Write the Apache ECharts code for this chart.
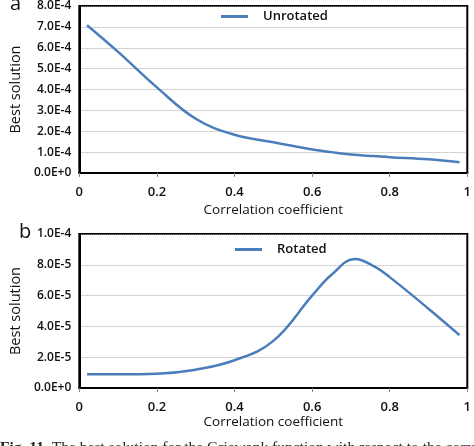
<!DOCTYPE html>
<html>
<head>
<meta charset="utf-8">
<script src="https://cdn.jsdelivr.net/npm/echarts@6/dist/echarts.min.js"></script>
<style>
  html, body { margin: 0; padding: 0; background: #fff; overflow: hidden; }
  #chart { width: 474px; height: 446px; }
</style>
</head>
<body>
<div id="chart"></div>
<script>
// correlation coefficient samples
let coeffs = [0.02, 0.1, 0.2, 0.3, 0.4, 0.5, 0.6, 0.65, 0.71, 0.76, 0.8, 0.9, 0.98];
// panel a, unrotated
let unrotated = [7.08e-4, 5.8e-4, 4.1e-4, 2.6e-4, 1.83e-4, 1.47e-4, 1.13e-4, 1.0e-4, 0.87e-4, 0.81e-4, 0.76e-4, 0.66e-4, 0.52e-4];
// panel b, rotated
let rotated = [0.89e-5, 0.89e-5, 0.93e-5, 1.19e-5, 1.8e-5, 3.06e-5, 6.0e-5, 7.35e-5, 8.37e-5, 7.9e-5, 7.2e-5, 5.15e-5, 3.43e-5];
let xTicks = [0, 0.2, 0.4, 0.6, 0.8, 1];

let font = 'Open Sans';
let blue = '#4a7ebb';

function sci(v) {
  if (Math.abs(v) < 1e-12) return '0.0E+0';
  let e = Math.floor(Math.log10(v) + 1e-9);
  let m = v / Math.pow(10, e);
  return m.toFixed(1) + 'E' + (e < 0 ? '-' : '+') + Math.abs(e);
}

function pairs(ys) {
  return coeffs.map(function (x, i) { return [x, ys[i]]; });
}

let grids = [
  {left: 76, top: 4, width: 395, height: 169},
  {left: 76, top: 234, width: 395, height: 154}
];

function xAx(idx, gap) {
  return {
    gridIndex: idx, type: 'value', min: 0, max: 1, interval: 0.2,
    name: 'Correlation coefficient', nameLocation: 'middle', nameGap: gap,
    nameTextStyle: {fontFamily: font, fontSize: 13.5, color: '#111'},
    axisLine: {lineStyle: {color: '#000', width: 2}},
    axisTick: {show: true, length: 4, lineStyle: {color: '#888'}},
    axisLabel: {
      fontFamily: font, fontSize: 13, fontWeight: 600, color: '#111', margin: 13,
      formatter: function (v) { return xTicks.indexOf(Math.round(v * 10) / 10) >= 0 ? String(Math.round(v * 10) / 10) : ''; }
    },
    splitLine: {show: false}
  };
}

function yAx(idx, max, interval) {
  return {
    gridIndex: idx, type: 'value', min: 0, max: max, interval: interval,
    name: 'Best solution', nameLocation: 'middle', nameGap: 51, nameRotate: 90,
    nameTextStyle: {fontFamily: font, fontSize: 14.5, color: '#111'},
    axisLine: {show: true, lineStyle: {color: '#000', width: 2}},
    axisTick: {show: false},
    axisLabel: {fontFamily: font, fontSize: 12, fontWeight: 600, color: '#111', margin: 8, formatter: sci},
    splitLine: {show: true, lineStyle: {color: '#aaa', type: 'dotted', width: 1}}
  };
}

let chart = echarts.init(document.getElementById('chart'));
chart.setOption({
  animation: false,
  grid: grids.map(function (g) {
    return Object.assign({show: true, borderColor: '#000', borderWidth: 2, backgroundColor: 'transparent'}, g);
  }),
  xAxis: [xAx(0, 30), xAx(1, 27)],
  yAxis: [yAx(0, 8e-4, 1e-4), yAx(1, 1e-4, 2e-5)],
  legend: [
    {data: ['Unrotated'], left: 216, top: 5, icon: 'rect', itemWidth: 27, itemHeight: 3,
     textStyle: {fontFamily: font, fontSize: 13, fontWeight: 600, color: '#111', padding: [0, 0, 0, 10]}},
    {data: ['Rotated'], left: 230, top: 238, icon: 'rect', itemWidth: 27, itemHeight: 3,
     textStyle: {fontFamily: font, fontSize: 13, fontWeight: 600, color: '#111', padding: [0, 0, 0, 10]}}
  ],
  series: [
    {name: 'Unrotated', type: 'line', xAxisIndex: 0, yAxisIndex: 0, data: pairs(unrotated),
     smooth: 0.4, showSymbol: false, lineStyle: {color: blue, width: 2.5}, itemStyle: {color: blue}},
    {name: 'Rotated', type: 'line', xAxisIndex: 1, yAxisIndex: 1, data: pairs(rotated),
     smooth: 0.4, showSymbol: false, lineStyle: {color: blue, width: 2.5}, itemStyle: {color: blue}}
  ],
  graphic: [
    {type: 'text', left: 10, top: -6, style: {text: 'a', fontFamily: font, fontSize: 20, fill: '#111'}},
    {type: 'text', left: 19, top: 222, style: {text: 'b', fontFamily: font, fontSize: 20, fill: '#111'}},
    {type: 'text', left: 0, top: 440, style: {
      rich: {
        f: {fontFamily: 'Liberation Serif', fontSize: 15.5, fontWeight: 'bold', fill: '#222'},
        t: {fontFamily: 'Liberation Serif', fontSize: 15.5, fill: '#222'}
      },
      text: '{f|Fig. 11}{t|  The best solution for the Griewank function with respect to the correlation coefficient}'
    }}
  ]
});
</script>
</body>
</html>
